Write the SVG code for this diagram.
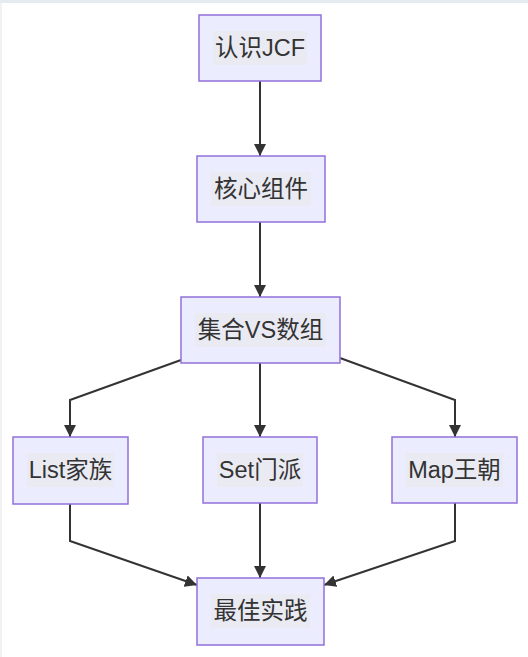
<svg xmlns="http://www.w3.org/2000/svg" width="528" height="657" viewBox="0 0 528 657">
<style>
.node rect.box{fill:#ECECFF;stroke:#9370DB;stroke-width:1.5}
.node rect.lbg{fill:#E8E8E8;opacity:0.5}
.node text{font-family:"Liberation Sans","Noto Sans CJK SC",sans-serif;font-size:23.5px;fill:#333333;text-anchor:middle;dominant-baseline:central}
.edges path{fill:none;stroke:#333333;stroke-width:2}
</style>
<defs>
<marker id="arrow" viewBox="0 0 10 10" refX="10" refY="5" markerUnits="userSpaceOnUse" markerWidth="12" markerHeight="12" orient="auto">
<path d="M0,0 L10,5 L0,10 z" fill="#333333"/>
</marker>
</defs>
<rect x="0" y="0" width="528" height="657" fill="#FFFFFF"/>
<rect x="0" y="0" width="528" height="3" fill="#E6EBF0"/>
<line x1="1" y1="3" x2="1" y2="657" stroke="#E4E4E4" stroke-width="1"/>
<g class="edges">
<path d="M260,81 L260,156" marker-end="url(#arrow)"/>
<path d="M260,222 L260,297" marker-end="url(#arrow)"/>
<path d="M181,360 L70,400 L70,437" marker-end="url(#arrow)"/>
<path d="M260,363 L260,437" marker-end="url(#arrow)"/>
<path d="M340,358 L455,400 L455,437" marker-end="url(#arrow)"/>
<path d="M70,504 L70,541 L197,585" marker-end="url(#arrow)"/>
<path d="M260,503 L260,578" marker-end="url(#arrow)"/>
<path d="M455,503 L455,541 L324,585" marker-end="url(#arrow)"/>
</g>
<g id="node-jcf" class="node">
<rect class="box" x="199" y="15" width="122" height="66"/>
<rect class="lbg" x="213" y="31" width="94" height="34"/>
<text x="260" y="48">认识JCF</text>
</g>
<g id="node-core" class="node">
<rect class="box" x="197" y="156" width="128" height="66"/>
<rect class="lbg" x="211" y="172" width="100" height="34"/>
<text x="261" y="189">核心组件</text>
</g>
<g id="node-vs" class="node">
<rect class="box" x="181" y="297" width="159" height="66"/>
<rect class="lbg" x="195" y="313" width="131" height="34"/>
<text x="260.5" y="330">集合VS数组</text>
</g>
<g id="node-list" class="node">
<rect class="box" x="13" y="437" width="115" height="67"/>
<rect class="lbg" x="27" y="453" width="87" height="34"/>
<text x="70.5" y="470">List家族</text>
</g>
<g id="node-set" class="node">
<rect class="box" x="203" y="437" width="114" height="66"/>
<rect class="lbg" x="217" y="453" width="86" height="34"/>
<text x="260" y="470">Set门派</text>
</g>
<g id="node-map" class="node">
<rect class="box" x="392" y="437" width="125" height="66"/>
<rect class="lbg" x="406" y="453" width="97" height="34"/>
<text x="454.5" y="470">Map王朝</text>
</g>
<g id="node-best" class="node">
<rect class="box" x="197" y="578" width="127" height="67"/>
<rect class="lbg" x="211" y="594" width="99" height="34"/>
<text x="260.5" y="611">最佳实践</text>
</g>
</svg>
